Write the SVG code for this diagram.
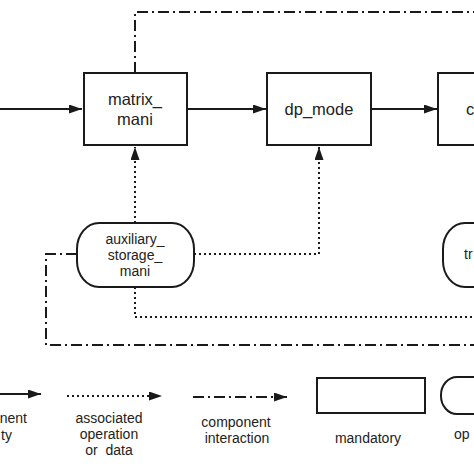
<svg xmlns="http://www.w3.org/2000/svg" width="474" height="474" viewBox="0 0 474 474">
<style>
.box{fill:#fff;stroke:#1a1a1a;stroke-width:2}
.lbl{font-family:"Liberation Sans",Arial,sans-serif;font-size:16.5px;fill:#222;text-anchor:middle}
.sm{font-family:"Liberation Sans",Arial,sans-serif;font-size:14px;fill:#222;text-anchor:middle}
.solid{fill:none;stroke:#1a1a1a;stroke-width:1.8}
.dot{fill:none;stroke:#1a1a1a;stroke-width:2;stroke-dasharray:2 3}
.dd{fill:none;stroke:#1a1a1a;stroke-width:2;stroke-dasharray:11 4 2 4}
</style>
<defs>
<marker id="ah" viewBox="0 0 13 9" refX="13" refY="4.5" markerWidth="13" markerHeight="9" markerUnits="userSpaceOnUse" orient="auto">
<path d="M0,0 L13,4.5 L0,9 Z" fill="#1a1a1a"/>
</marker>
</defs>
<rect width="474" height="474" fill="#fff"/>
<g id="connectors">
<path class="solid" d="M0,109 L82,109" marker-end="url(#ah)"/>
<path class="solid" d="M187,109 L266,109" marker-end="url(#ah)"/>
<path class="solid" d="M371,109 L437,109" marker-end="url(#ah)"/>
<path class="dd" d="M135,73 L135,12 L474,12"/>
<path class="dot" d="M135,223 L135,147" marker-end="url(#ah)"/>
<path class="dot" d="M194,254 L319,254 L319,147" marker-end="url(#ah)"/>
<path class="dot" d="M135,287 L135,317 L474,317"/>
<path class="dd" d="M77,254 L46,254 L46,345 L474,345"/>
</g>
<g id="matrix_mani">
<rect class="box" x="84" y="73" width="103" height="72"/>
<text class="lbl" x="135" y="105">matrix_</text>
<text class="lbl" x="135" y="125">mani</text>
</g>
<g id="dp_mode">
<rect class="box" x="267" y="73" width="104" height="72"/>
<text class="lbl" x="319" y="115">dp_mode</text>
</g>
<g id="c_node">
<rect class="box" x="438" y="73" width="60" height="72"/>
<text class="lbl" x="466" y="115" style="text-anchor:start">c</text>
</g>
<g id="auxiliary_storage_mani">
<rect class="box" x="77" y="223" width="117" height="64" rx="22" ry="26"/>
<text class="sm" x="135" y="244">auxiliary_</text>
<text class="sm" x="135" y="260">storage_</text>
<text class="sm" x="135" y="276">mani</text>
</g>
<g id="tr_node">
<rect class="box" x="443" y="223" width="80" height="64" rx="22" ry="26"/>
<text class="sm" x="464" y="259" style="text-anchor:start">tr</text>
</g>
<g id="legend">
<path class="solid" d="M0,394 L41,394" marker-end="url(#ah)"/>
<text class="sm" x="27" y="423" style="text-anchor:end">nent</text>
<text class="sm" x="1" y="440" style="text-anchor:start">ty</text>
<path class="dot" d="M67,396 L162,396" marker-end="url(#ah)"/>
<text class="sm" x="109" y="423">associated</text>
<text class="sm" x="109" y="439">operation</text>
<text class="sm" x="109" y="455" style="white-space:pre">or  data</text>
<path class="dd" d="M193,397 L287,397" marker-end="url(#ah)"/>
<text class="sm" x="236" y="427">component</text>
<text class="sm" x="237" y="443">interaction</text>
<rect class="box" x="317" y="378" width="108" height="35"/>
<text class="sm" x="368" y="443">mandatory</text>
<rect class="box" x="441" y="377" width="80" height="37" rx="16" ry="18"/>
<text class="sm" x="454" y="439" style="text-anchor:start">op</text>
</g>
</svg>
